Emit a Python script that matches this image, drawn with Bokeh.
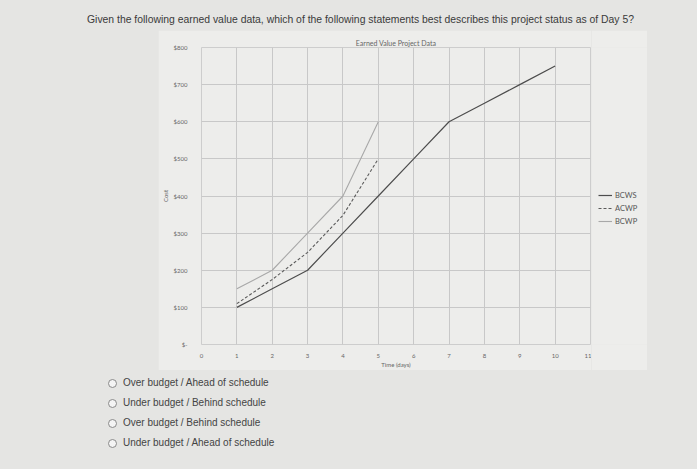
from bokeh.plotting import figure
from bokeh.layouts import column, row
from bokeh.models import Div, Legend, LegendItem, Range1d, FixedTicker, Spacer
from bokeh.embed import file_html
from bokeh.resources import INLINE

question = "Given the following earned value data, which of the following statements best describes this project status as of Day 5?"
chart_title = "Earned Value Project Data"
options = [
    "Over budget / Ahead of schedule",
    "Under budget / Behind schedule",
    "Over budget / Behind schedule",
    "Under budget / Ahead of schedule",
]

series_names = ["BCWS", "ACWP", "BCWP"]
days_bcws = [1, 2, 3, 4, 5, 6, 7, 8, 9, 10]
bcws = [100, 150, 200, 300, 400, 500, 600, 650, 700, 750]
days_acwp = [1, 2, 3, 4, 5]
acwp = [110, 175, 248, 348, 500]
days_bcwp = [1, 2, 3, 4, 5]
bcwp = [150, 200, 300, 400, 600]
x_ticks = list(range(0, 12))
y_ticks = list(range(0, 801, 100))
y_labels = ["$-", "$100", "$200", "$300", "$400", "$500", "$600", "$700", "$800"]

BG = "#e5e5e3"
PAPER = "#ededeb"
FONT = "Lato"
STYLES = [
    dict(line_color="#4d4d4d", line_width=1.2),
    dict(line_color="#5a5a5a", line_width=1.1, line_dash="3 2"),
    dict(line_color="#a8a8a8", line_width=1.1),
]
SERIES = [(days_bcws, bcws), (days_acwp, acwp), (days_bcwp, bcwp)]

q_div = Div(
    text=f'<div style="font-family:\'Liberation Sans\',Arial,sans-serif;font-size:10.4px;color:#3a3a3a;white-space:nowrap;padding-top:8px;">{question}</div>',
    width=605, height=20,
)

p = figure(width=433, height=340, x_range=Range1d(0, 11), y_range=Range1d(0, 800),
           output_backend="svg", toolbar_location=None, title=chart_title,
           min_border_left=42, min_border_right=1, min_border_top=17, min_border_bottom=26)
p.background_fill_color = PAPER
p.border_fill_color = PAPER
p.outline_line_color = "#cdcdcd"

p.title.align = "center"
p.title.text_font = FONT
p.title.text_font_size = "7px"
p.title.text_font_style = "normal"
p.title.text_color = "#666666"
p.title.standoff = 2
p.title.offset = 12

for (xs, ys), st in zip(SERIES, STYLES):
    p.line(xs, ys, **st)

for ax in (p.xaxis, p.yaxis):
    ax.axis_line_color = None
    ax.major_tick_line_color = None
    ax.minor_tick_line_color = None
    ax.major_label_text_font = FONT
    ax.major_label_text_font_size = "6px"
    ax.major_label_text_color = "#666666"
    ax.axis_label_text_font = FONT
    ax.axis_label_text_font_size = "6px"
    ax.axis_label_text_font_style = "normal"
    ax.axis_label_text_color = "#666666"

p.xaxis.ticker = FixedTicker(ticks=x_ticks)
p.xaxis.axis_label = "Time (days)"
p.xaxis.major_label_standoff = 3
p.xaxis.axis_label_standoff = 0
p.yaxis.ticker = FixedTicker(ticks=y_ticks)
p.yaxis.major_label_overrides = {t: lab for t, lab in zip(y_ticks, y_labels)}
p.yaxis.axis_label = "Cost"
p.yaxis.major_label_standoff = 8
p.yaxis.axis_label_standoff = 2

p.xgrid.grid_line_color = "#c8c8c8"
p.ygrid.grid_line_color = "#c8c8c8"

# separate narrow figure holding the legend to the right of the chart;
# its ranges exclude the data, so only the legend is visible there
lf = figure(width=56, height=340, x_range=Range1d(-2, -1), y_range=Range1d(-2, -1),
            output_backend="svg", toolbar_location=None,
            min_border_left=0, min_border_right=0, min_border_top=0, min_border_bottom=0)
lf.axis.visible = False
lf.grid.visible = False
lf.outline_line_color = None
lf.background_fill_color = PAPER
lf.border_fill_color = PAPER
items = []
for name, (xs, ys), st in zip(series_names, SERIES, STYLES):
    r = lf.line(xs, ys, **st)
    items.append(LegendItem(label=name, renderers=[r]))
legend = Legend(items=items, location=(7, 118), orientation="vertical")
legend.label_text_font = FONT
legend.label_text_font_size = "7.5px"
legend.label_text_color = "#555555"
legend.glyph_width = 14
legend.glyph_height = 10
legend.label_height = 10
legend.spacing = 3
legend.padding = 2
legend.margin = 0
legend.label_standoff = 3
legend.border_line_color = None
legend.background_fill_alpha = 0
lf.add_layout(legend)

rows = "".join(
    f'<div style="display:flex;align-items:center;height:20px;">'
    f'<span style="display:inline-block;width:9px;height:9px;border:1px solid #8a8a8a;border-radius:50%;background:#f4f4f4;margin-right:6px;"></span>'
    f'<span>{o}</span></div>'
    for o in options
)
opt_div = Div(
    text=f'<div style="font-family:\'Liberation Sans\',Arial,sans-serif;font-size:10px;color:#444444;padding-top:3px;">{rows}</div>',
    width=300, height=94, margin=(0, 5, 5, 5),
)

top_row = row(Spacer(width=82, height=20), q_div)
mid_row = row(Spacer(width=158, height=340), p, lf)
bot_row = row(Spacer(width=103, height=94), opt_div)

layout = column(top_row, mid_row, bot_row, styles={"background-color": BG})

open("out.html", "w").write(file_html(layout, INLINE))
